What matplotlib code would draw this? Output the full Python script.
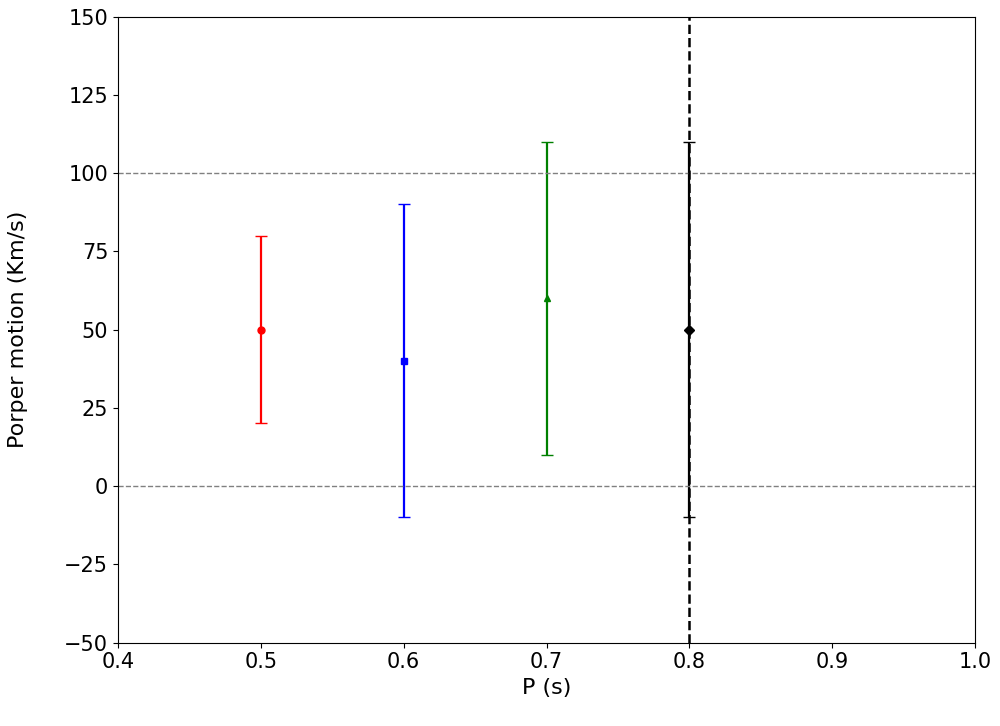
import matplotlib
matplotlib.use("Agg")
import matplotlib.pyplot as plt

periods = [0.5, 0.6, 0.7, 0.8]
motion = [50, 40, 60, 50]
errors = [30, 50, 50, 60]
colors = ['red', 'blue', 'green', 'black']
markers = ['o', 's', '^', 'D']

fig = plt.figure(figsize=(10, 7.26), dpi=100)
ax = fig.add_axes([0.118, 0.115, 0.857, 0.862])

for p, m, e, c, mk in zip(periods, motion, errors, colors, markers):
    ax.errorbar(p, m, yerr=e, color=c, marker=mk, markersize=5, capsize=4, elinewidth=1.6)

ax.axhline(0, color='gray', linestyle='--', linewidth=1)
ax.axhline(100, color='gray', linestyle='--', linewidth=1)
ax.axvline(0.8, color='black', linestyle='--', linewidth=1.8)

ax.set_xlim(0.4, 1.0)
ax.set_ylim(-50, 150)
ax.set_xlabel('P (s)', fontsize=16)
ax.set_ylabel('Porper motion (Km/s)', fontsize=16)
ax.yaxis.set_label_coords(-0.105, 0.5)
ax.tick_params(labelsize=15)

fig.savefig('out.png')
